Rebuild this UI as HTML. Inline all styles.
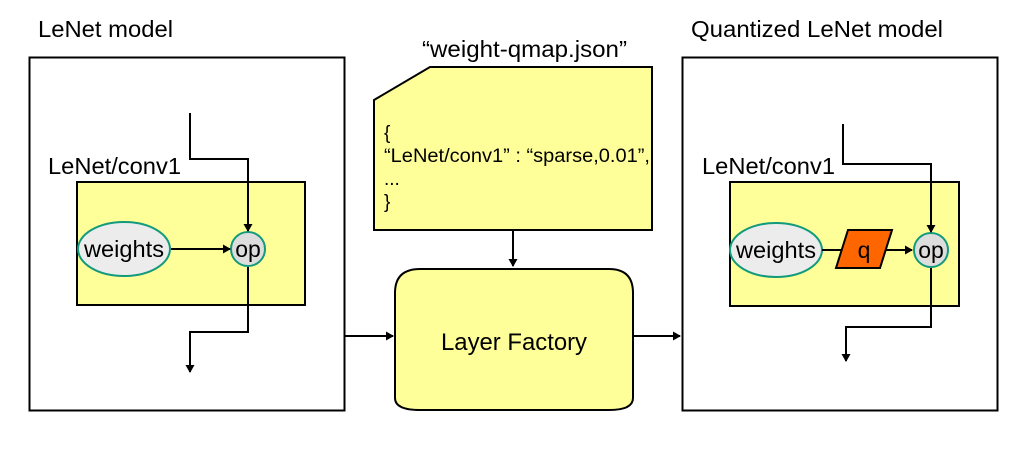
<!DOCTYPE html>
<html><head><meta charset="utf-8"><style>
html,body{margin:0;padding:0;background:#fff;}
svg{display:block;font-family:"Liberation Sans",sans-serif;}
</style></head><body>
<svg width="1027" height="451" viewBox="0 0 1027 451" xmlns="http://www.w3.org/2000/svg">
<defs><marker id="a" markerWidth="8" markerHeight="9" refX="7" refY="4.5" orient="auto" markerUnits="userSpaceOnUse"><path d="M0,0 L8,4.5 L0,9 z" fill="#000"/></marker></defs>
<rect width="1027" height="451" fill="#fff"/>
<text x="38" y="37" font-size="23" textLength="135" lengthAdjust="spacingAndGlyphs">LeNet model</text>
<text x="422" y="57" font-size="23" textLength="205" lengthAdjust="spacingAndGlyphs">“weight-qmap.json”</text>
<text x="691" y="37" font-size="23" textLength="252" lengthAdjust="spacingAndGlyphs">Quantized LeNet model</text>

<!-- left -->
<rect x="29.5" y="57.5" width="315" height="353" fill="#fff" stroke="#000" stroke-width="2"/>
<text x="48" y="174" font-size="23" textLength="133" lengthAdjust="spacingAndGlyphs">LeNet/conv1</text>
<rect x="77" y="182" width="228" height="123" fill="#ffff99" stroke="#000" stroke-width="2"/>
<ellipse cx="124" cy="249" rx="46" ry="27" fill="#ececec" stroke="#129a7d" stroke-width="2"/>
<text x="124" y="257" font-size="23" text-anchor="middle" textLength="80" lengthAdjust="spacingAndGlyphs">weights</text>
<circle cx="248" cy="249" r="17" fill="#dddddd" stroke="#129a7d" stroke-width="2"/>
<text x="248" y="257" font-size="23" text-anchor="middle">op</text>
<line x1="171" y1="249" x2="230" y2="249" stroke="#000" stroke-width="2" marker-end="url(#a)"/>
<polyline points="190,113 190,159 248,159 248,231" fill="none" stroke="#000" stroke-width="2" marker-end="url(#a)"/>
<polyline points="248,267 248,332 190,332 190,372" fill="none" stroke="#000" stroke-width="2" marker-end="url(#a)"/>

<!-- note -->
<path d="M374,100 L430,67 L652,67 L652,230 L374,230 Z" fill="#ffff99" stroke="#000" stroke-width="2"/>
<g font-size="19">
<text x="384" y="139">{</text>
<text x="384" y="162" textLength="266" lengthAdjust="spacingAndGlyphs">“LeNet/conv1” : “sparse,0.01”,</text>
<text x="384" y="185">...</text>
<text x="384" y="208">}</text>
</g>
<line x1="513" y1="230" x2="513" y2="266" stroke="#000" stroke-width="2" marker-end="url(#a)"/>
<path d="M395,398 L395,293 Q395,269 420,269 L609,269 Q633,269 633,293 L633,398 Q633,410 609,410 L420,410 Q395,410 395,398 Z" fill="#ffff99" stroke="#000" stroke-width="2"/>
<text x="441" y="350" font-size="24" textLength="146" lengthAdjust="spacingAndGlyphs">Layer Factory</text>
<line x1="345" y1="336" x2="393" y2="336" stroke="#000" stroke-width="2" marker-end="url(#a)"/>
<line x1="634" y1="336" x2="680" y2="336" stroke="#000" stroke-width="2" marker-end="url(#a)"/>

<!-- right -->
<rect x="682.5" y="57.5" width="315" height="353" fill="#fff" stroke="#000" stroke-width="2"/>
<text x="702" y="174" font-size="23" textLength="133" lengthAdjust="spacingAndGlyphs">LeNet/conv1</text>
<rect x="730" y="182" width="229" height="124" fill="#ffff99" stroke="#000" stroke-width="2"/>
<ellipse cx="776" cy="250" rx="46" ry="27" fill="#ececec" stroke="#129a7d" stroke-width="2"/>
<text x="776" y="258" font-size="23" text-anchor="middle" textLength="80" lengthAdjust="spacingAndGlyphs">weights</text>
<line x1="822" y1="250" x2="845" y2="250" stroke="#000" stroke-width="2"/>
<path d="M836,268 L848,230 L892,230 L880,268 Z" fill="#ff6600" stroke="#000" stroke-width="2"/>
<text x="864" y="258" font-size="23" text-anchor="middle">q</text>
<line x1="886" y1="250" x2="912" y2="250" stroke="#000" stroke-width="2" marker-end="url(#a)"/>
<circle cx="931" cy="250" r="17" fill="#dddddd" stroke="#129a7d" stroke-width="2"/>
<text x="931" y="258" font-size="23" text-anchor="middle">op</text>
<polyline points="843,124 843,164 931,164 931,232" fill="none" stroke="#000" stroke-width="2" marker-end="url(#a)"/>
<polyline points="931,268 931,327 846,327 846,361" fill="none" stroke="#000" stroke-width="2" marker-end="url(#a)"/>
</svg>
</body></html>
